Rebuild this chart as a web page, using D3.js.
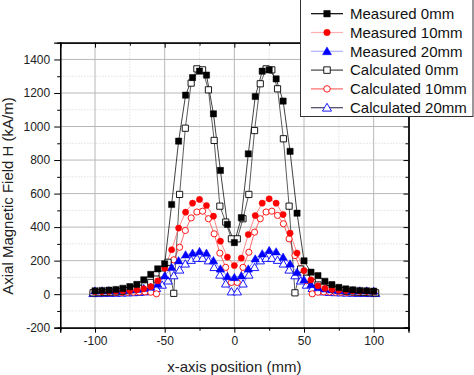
<!DOCTYPE html>
<html><head><meta charset="utf-8">
<script src="https://cdn.jsdelivr.net/npm/d3@7"></script>
<style>
html,body{margin:0;padding:0;background:#fff;}
svg{display:block;font-family:"Liberation Sans",Arial,sans-serif;}
</style></head>
<body><svg id="c" width="474" height="375"></svg>
<script>
// ---- data ----
const measuredX = [-100,-95,-90,-85,-80,-75,-70,-65,-60,-55,-50,-45,-40,-35,-30,-25,-20,-15,-10,-5,0,5,10,15,20,25,30,35,40,45,50,55,60,65,70,75,80,85,90,95,100];
const measured0 = [20,22,24,28,35,45,58,86,118,151,181,535,913,1187,1292,1330,1307,1076,738,416,308,456,837,1179,1330,1338,1284,1152,852,483,199,131,111,77,57,40,31,26,22,20,18];
const measured10 = [15,15,17,18,20,22,26,32,45,80,155,265,394,489,543,565,529,465,316,221,171,215,356,469,543,569,543,475,364,245,141,85,50,35,28,24,21,19,18,17,16];
const measured20 = [20,20,21,22,24,27,30,35,42,60,110,160,200,235,245,255,245,201,151,106,100,110,151,211,241,261,253,221,181,131,86,58,40,32,27,24,22,21,20,20,19];

const calcX = [-101.4,-97.3,-93.1,-89.0,-84.9,-80.7,-76.6,-72.4,-68.3,-64.2,-60.0,-55.9,-51.8,-47.6,-43.5,-39.3,-35.2,-31.0,-26.9,-22.8,-18.6,-14.5,-10.4,-6.2,-2.1,
               2.1,6.2,10.4,14.5,18.6,22.8,26.9,31.0,35.2,39.3,43.5,47.6,51.8,55.9,60.0,64.2,68.3,72.4,76.6,80.7,84.9,89.0,93.1,97.3,101.4];
const calc0 = [8,9,10,12,14,17,21,27,35,50,70,90,120,190,5,595,990,1259,1344,1338,1219,917,525,430,330,
               330,450,595,976,1255,1344,1338,1225,927,525,8,150,95,70,55,42,33,26,21,17,14,12,10,9,8];
const calc10 = [8,8,9,9,10,10,11,12,13,14,12,2,110,160,205,280,380,455,490,495,450,360,245,160,70,
                70,160,250,370,450,490,495,470,420,330,230,150,80,2,12,14,13,12,11,10,10,9,9,8,8];
const calc20 = [5,5,6,6,7,8,9,10,12,15,20,35,55,80,111,145,181,203,215,215,200,160,115,62,15,
                15,62,115,160,200,215,215,203,181,145,111,80,55,35,20,15,12,10,9,8,7,6,6,5,5];

const xTicks = [-100,-50,0,50,100];
const yTicks = [-200,0,200,400,600,800,1000,1200,1400];
const xTitle = "x-axis position (mm)";
const yTitle = "Axial Magnetic Field H (kA/m)";

const series = [
  {name:"Measured 0mm",  xs:measuredX, ys:measured0,  shape:"square",   fill:"#000", stroke:"#000", line:"#111", legendLine:"#000"},
  {name:"Measured 10mm", xs:measuredX, ys:measured10, shape:"circle",   fill:"#f00", stroke:"#f00", line:"#ff6a6a", legendLine:"#ffb0b0"},
  {name:"Measured 20mm", xs:measuredX, ys:measured20, shape:"triangle", fill:"#00f", stroke:"#00f", line:"#6a6aff", legendLine:"#b0b0ff"},
  {name:"Calculated 0mm",  xs:calcX, ys:calc0,  shape:"square",   fill:"#fff", stroke:"#000", line:"#333", legendLine:"#444"},
  {name:"Calculated 10mm", xs:calcX, ys:calc10, shape:"circle",   fill:"#fff", stroke:"#f00", line:"#f44", legendLine:"#f66"},
  {name:"Calculated 20mm", xs:calcX, ys:calc20, shape:"triangle", fill:"#fff", stroke:"#00f", line:"#55f", legendLine:"#446"}
];

// ---- layout ----
const svg = d3.select("#c");
const L = 60.2, R = 408.5, T = 42.7, B = 327.7;
const x = d3.scaleLinear().domain([-125,125]).range([L,R]);
const y = d3.scaleLinear().domain([-200,1500]).range([B,T]);
const fmt = d => String(d);

const xMinor = d3.range(-125,126,25).filter(v=>!xTicks.includes(v));
const yMinor = d3.range(-100,1500,200);

// grid
const g = svg.append("g");
g.selectAll(".gxm").data(xMinor).join("line")
  .attr("x1",d=>x(d)).attr("x2",d=>x(d)).attr("y1",T).attr("y2",B)
  .attr("stroke","#d8d8d8").attr("stroke-width",0.8).attr("stroke-dasharray","1.5,1.5");
g.selectAll(".gym").data(yMinor).join("line")
  .attr("y1",d=>y(d)).attr("y2",d=>y(d)).attr("x1",L).attr("x2",R)
  .attr("stroke","#d8d8d8").attr("stroke-width",0.8).attr("stroke-dasharray","1.5,1.5");
g.selectAll(".gx").data(xTicks).join("line")
  .attr("x1",d=>x(d)).attr("x2",d=>x(d)).attr("y1",T).attr("y2",B)
  .attr("stroke","#b8b8b8").attr("stroke-width",1);
g.selectAll(".gy").data(yTicks.filter(v=>v>-200)).join("line")
  .attr("y1",d=>y(d)).attr("y2",d=>y(d)).attr("x1",L).attr("x2",R)
  .attr("stroke","#b8b8b8").attr("stroke-width",1);

// series
svg.append("clipPath").attr("id","pc").append("rect")
  .attr("x",L).attr("y",T).attr("width",R-L).attr("height",B-T);
const plot = svg.append("g").attr("clip-path","url(#pc)");

function sym(shape,size){
  if(shape==="square") return d3.symbol(d3.symbolSquare, size*size)();
  if(shape==="circle") return d3.symbol(d3.symbolCircle, Math.PI*size*size/4)();
  return d3.symbol(d3.symbolTriangle, size*size*0.55)();
}
const line = d3.line().x(d=>x(d[0])).y(d=>y(d[1]));
const order = [5,4,3,2,1,0];
order.forEach(i=>{
  const s = series[i];
  const pts = s.xs.map((v,k)=>[v,s.ys[k]]);
  plot.append("path").attr("d",line(pts)).attr("fill","none")
    .attr("stroke",s.line).attr("stroke-width",0.8);
});
order.forEach(i=>{
  const s = series[i];
  const pts = s.xs.map((v,k)=>[v,s.ys[k]]);
  const size = s.shape==="triangle"?7.5:6.2;
  plot.selectAll(null).data(pts).join("path")
    .attr("transform",d=>`translate(${x(d[0])},${y(d[1])+(s.shape==="triangle"?0.8:0)})`)
    .attr("d",sym(s.shape,size))
    .attr("fill",s.fill).attr("stroke",s.stroke).attr("stroke-width",s.fill==="#fff"?0.9:0.5);
});

// axes
const font = "12px";
const axB = svg.append("g").attr("transform",`translate(0,${B})`)
  .call(d3.axisBottom(x).tickValues(xTicks).tickSize(5).tickPadding(4).tickFormat(fmt));
const axBm = svg.append("g").attr("transform",`translate(0,${B})`)
  .call(d3.axisBottom(x).tickValues(xMinor).tickSize(3).tickFormat(""));
const axT = svg.append("g").attr("transform",`translate(0,${T})`)
  .call(d3.axisTop(x).tickValues(xTicks).tickSize(-5).tickFormat(""));
const axTm = svg.append("g").attr("transform",`translate(0,${T})`)
  .call(d3.axisTop(x).tickValues(xMinor).tickSize(-3).tickFormat(""));
const axL = svg.append("g").attr("transform",`translate(${L},0)`)
  .call(d3.axisLeft(y).tickValues(yTicks).tickSize(6).tickPadding(4).tickFormat(fmt));
const axLm = svg.append("g").attr("transform",`translate(${L},0)`)
  .call(d3.axisLeft(y).tickValues(yMinor).tickSize(3).tickFormat(""));
const axR = svg.append("g").attr("transform",`translate(${R},0)`)
  .call(d3.axisRight(y).tickValues(yTicks).tickSize(-5).tickFormat(""));
const axRm = svg.append("g").attr("transform",`translate(${R},0)`)
  .call(d3.axisRight(y).tickValues(yMinor).tickSize(-3).tickFormat(""));
[axB,axBm,axT,axTm,axL,axLm,axR,axRm].forEach(a=>{
  a.select(".domain").attr("stroke","#000").attr("stroke-width",1.3);
  a.selectAll(".tick line").attr("stroke","#000").attr("stroke-width",1);
  a.selectAll("text").attr("font-size",font).attr("fill","#222")
    .attr("font-family","Liberation Sans, Arial, sans-serif");
});

// titles
svg.append("text").attr("x",(x(0))).attr("y",372).attr("text-anchor","middle")
  .attr("font-size","15px").attr("fill","#222").text(xTitle);
svg.append("text").attr("transform",`translate(13,${196}) rotate(-90)`)
  .attr("text-anchor","middle").attr("font-size","15px").attr("fill","#222").text(yTitle);

// legend
const lg = svg.append("g");
lg.append("rect").attr("x",300.5).attr("y",-3).attr("width",172.5).attr("height",119.5)
  .attr("fill","#fff").attr("stroke","#333").attr("stroke-width",1);
series.forEach((s,i)=>{
  const cy = 13.7 + i*18.8;
  lg.append("line").attr("x1",311).attr("x2",343).attr("y1",cy).attr("y2",cy)
    .attr("stroke",s.legendLine).attr("stroke-width",1.2);
  lg.append("path").attr("transform",`translate(327,${cy+(s.shape==="triangle"?0.8:0)})`)
    .attr("d",sym(s.shape,s.shape==="triangle"?8:6.5))
    .attr("fill",s.fill).attr("stroke",s.stroke).attr("stroke-width",s.fill==="#fff"?0.9:0.5);
  lg.append("text").attr("x",350).attr("y",cy+5.3).attr("font-size","15px").attr("fill","#111").text(s.name);
});
</script></body></html>
